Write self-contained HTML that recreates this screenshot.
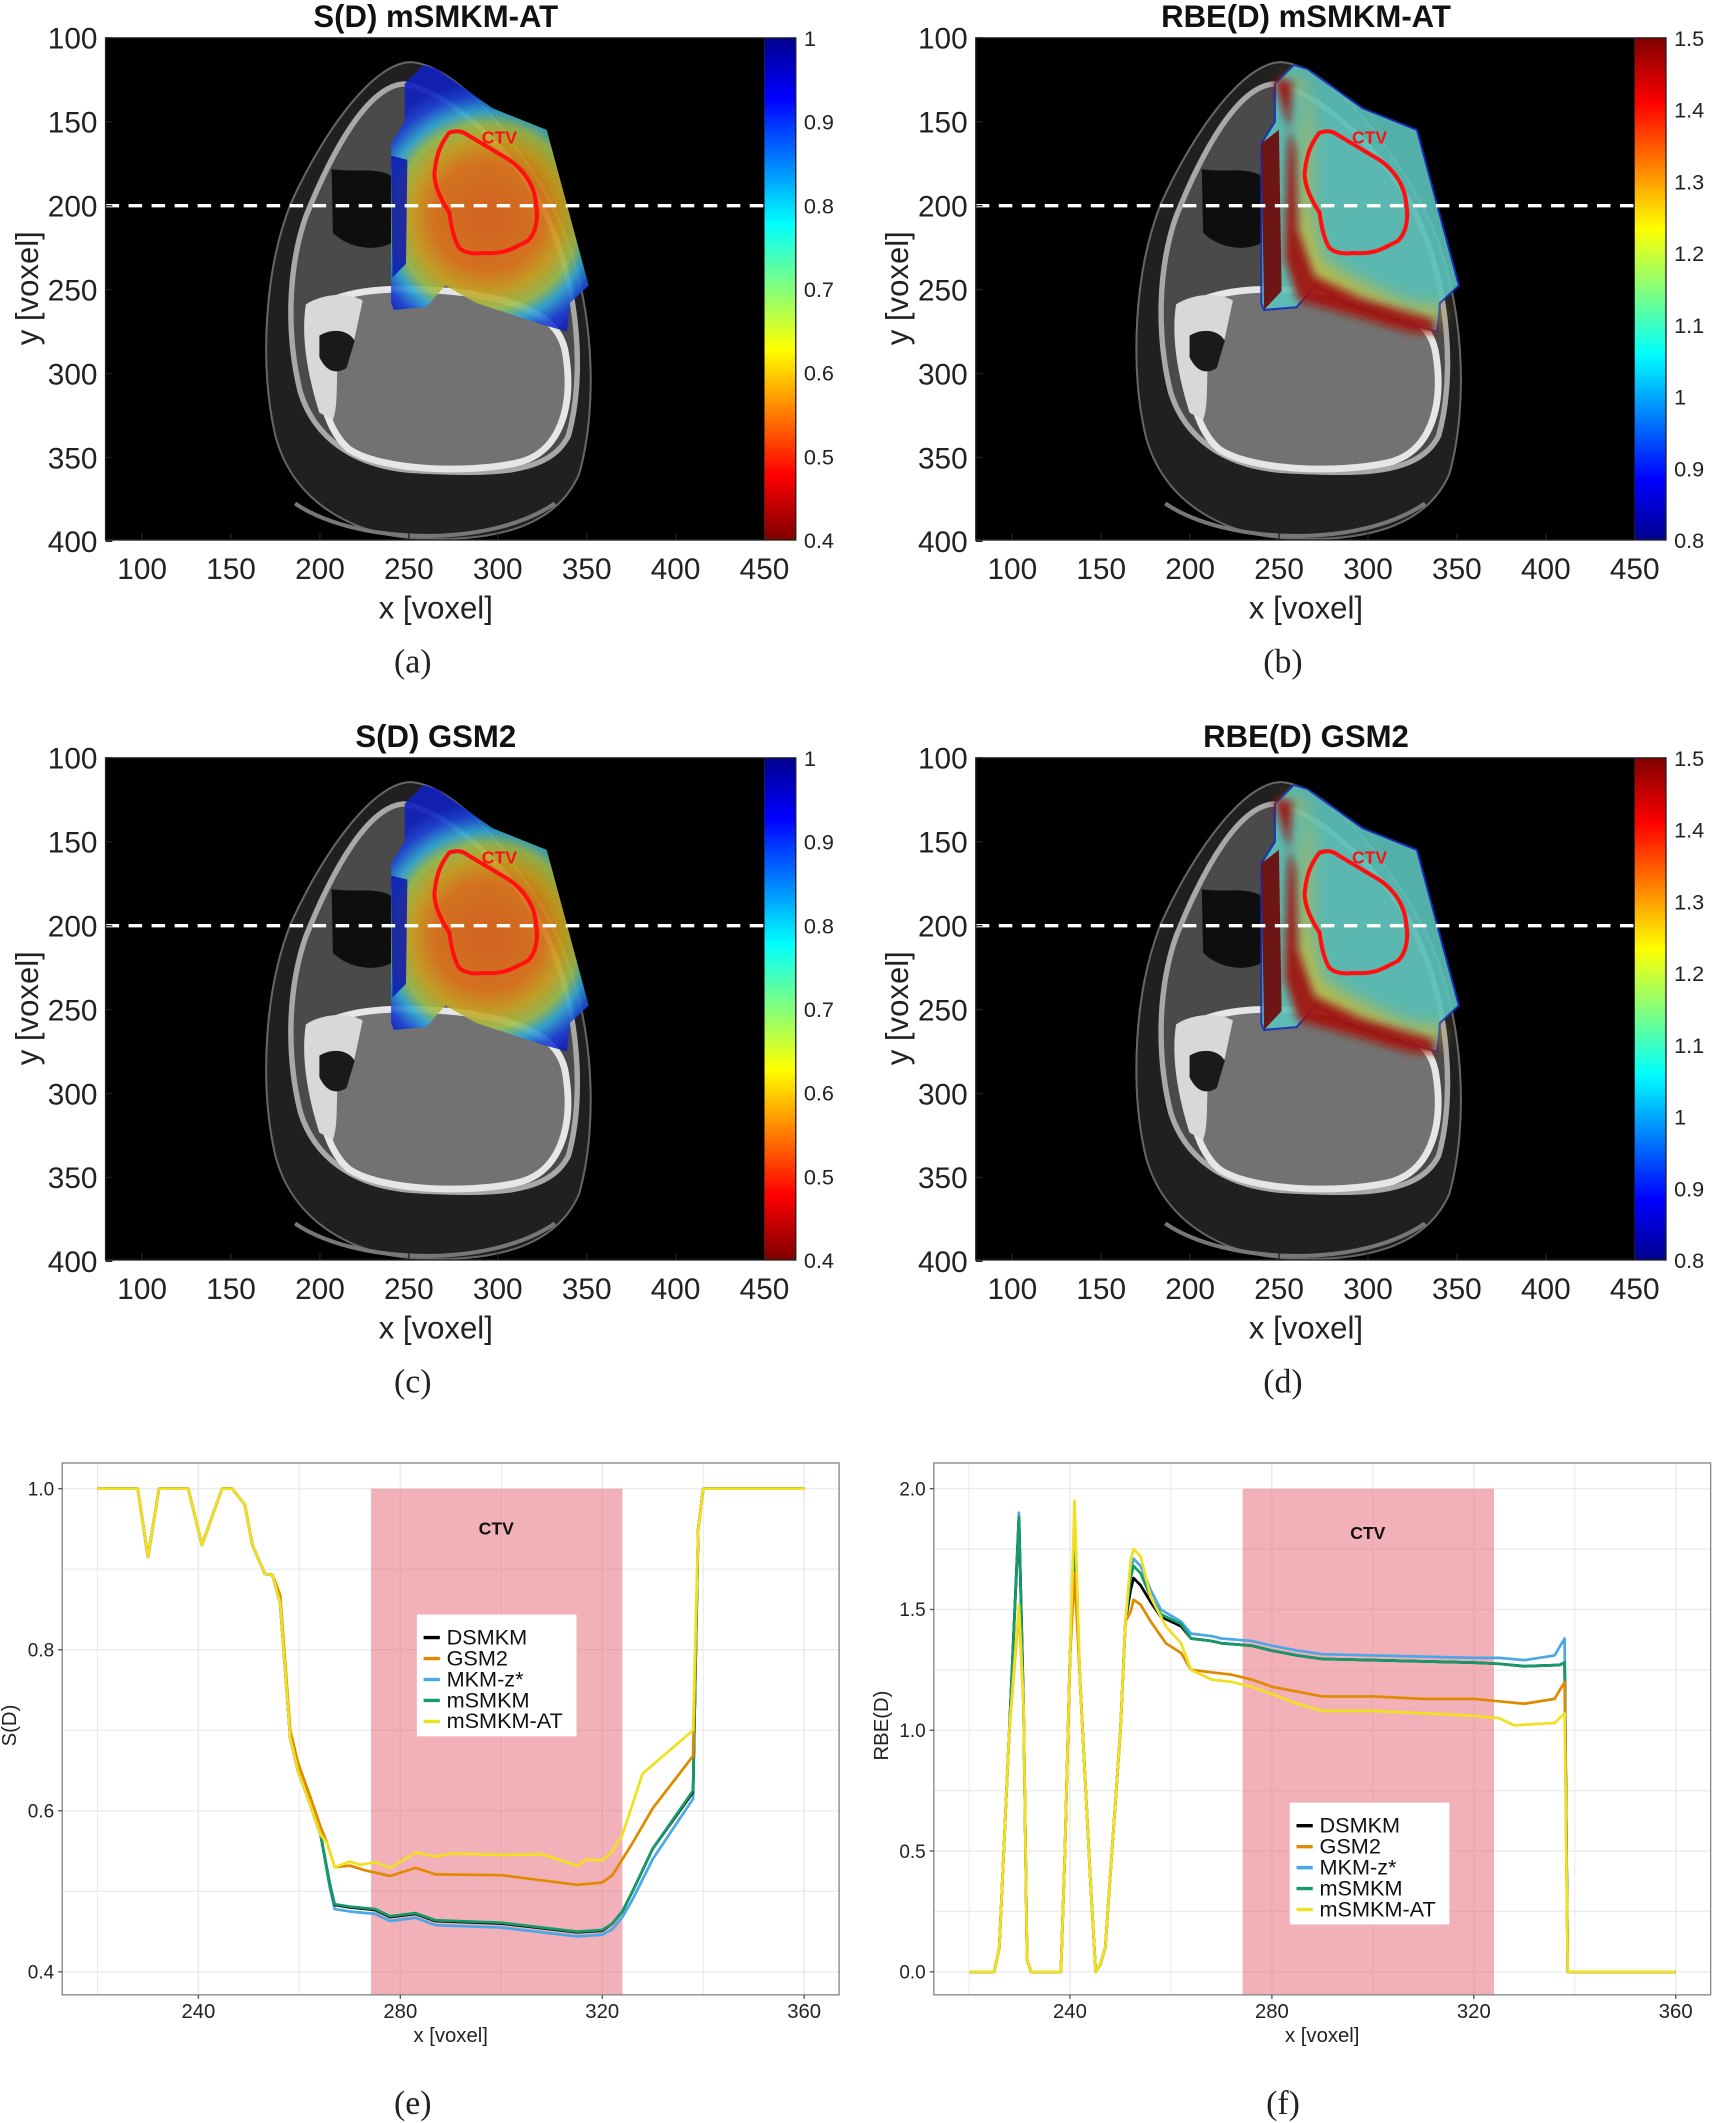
<!DOCTYPE html>
<html><head><meta charset="utf-8"><style>
html,body{margin:0;padding:0;background:#fff;}
svg{display:block;font-family:"Liberation Sans",Arial,sans-serif;}
</style></head><body>
<svg id="s" xmlns="http://www.w3.org/2000/svg" width="1712" height="2123" viewBox="0 0 1265 1568.7">
<defs>
<linearGradient id="jetR" x1="0" y1="0" x2="0" y2="1">
<stop offset="0" stop-color="#00008f"/><stop offset="0.12" stop-color="#0000ff"/><stop offset="0.37" stop-color="#00ffff"/><stop offset="0.62" stop-color="#ffff00"/><stop offset="0.87" stop-color="#ff0000"/><stop offset="1" stop-color="#800000"/>
</linearGradient>
<linearGradient id="jet" x1="0" y1="1" x2="0" y2="0">
<stop offset="0" stop-color="#00008f"/><stop offset="0.12" stop-color="#0000ff"/><stop offset="0.37" stop-color="#00ffff"/><stop offset="0.62" stop-color="#ffff00"/><stop offset="0.87" stop-color="#ff0000"/><stop offset="1" stop-color="#800000"/>
</linearGradient>
<radialGradient id="sg" cx="360" cy="160" r="100" gradientUnits="userSpaceOnUse">
<stop offset="0" stop-color="#e0641c"/><stop offset="0.4" stop-color="#e2761c"/><stop offset="0.55" stop-color="#d0a420"/><stop offset="0.68" stop-color="#9cc050"/><stop offset="0.78" stop-color="#30a8d8"/><stop offset="0.9" stop-color="#1a40d8"/><stop offset="1" stop-color="#1020c0"/>
</radialGradient>
<filter id="bl" x="-20%" y="-20%" width="140%" height="140%"><feGaussianBlur stdDeviation="6"/></filter>
<filter id="bl2"><feGaussianBlur stdDeviation="3"/></filter>
<clipPath id="cpE"><rect x="46" y="1081" width="574" height="393"/></clipPath>
<clipPath id="cpF"><rect x="690" y="1081" width="574" height="393"/></clipPath>
</defs>
<g id="root"></g>
</svg>
<script>
const root=document.getElementById("root");
let H="";
const region="M313,48 L323,51 L364,80 L404,96 L435,211 L421,224 L419,245 L401,240 L352,224 L329,211 L315,227 L291,229 L289,224 L289,106 L299,90 L299,62 Z";
const ctv="M332,98 C338,96 342,97 346,100 L376,118 C388,126 395,138 396,150 C398,162 396,172 390,178 L380,183 C370,188 362,187 356,187 C348,188 340,186 338,181 C334,172 333,164 332,157 C326,148 321,138 321,128 C322,118 324,108 332,98 Z";
function head(){
 let s="";
 s+=`<path d="M305,46 C340,50 385,105 412,160 C440,220 442,300 428,350 C410,392 360,400 311,398 C260,396 215,370 203,320 C192,270 195,200 215,150 C240,95 278,44 305,46 Z" fill="#202020" stroke="#666" stroke-width="1.5"/>`;
 s+=`<path d="M298,62 C330,66 382,112 405,162 C428,212 432,280 420,322 C405,352 360,350 311,348 C260,346 232,322 222,290 C212,250 212,200 226,160 C246,110 272,64 298,62 Z" fill="#4a4a4a" stroke="#a8a8a8" stroke-width="4"/>`;
 s+=`<path d="M238,225 C262,212 300,212 340,216 C382,222 414,232 418,262 C424,300 414,335 382,342 C345,350 282,348 258,332 C236,314 230,265 238,225 Z" fill="#727272" stroke="#e6e6e6" stroke-width="5"/>`;
 s+=`<path d="M226,225 C236,218 255,215 268,222 L262,250 L250,262 C248,285 250,300 246,310 L236,305 C228,280 222,250 226,225 Z" fill="#d8d8d8"/>`;
 s+=`<path d="M236,248 C246,242 258,244 262,252 L256,272 C246,278 240,272 236,264 Z" fill="#1a1a1a"/>`;
 s+=`<path d="M245,125 C262,128 280,122 292,132 L292,178 C276,188 256,182 246,172 Z" fill="#0e0e0e"/>`;
 s+=`<path d="M218,372 C262,402 360,406 410,372" fill="none" stroke="#777" stroke-width="3"/>`;
 return s;
}
function axesImg(ox,oy,title,isR,cbTicks){
 let s=`<g transform="translate(${ox},${oy})">`;
 s+=`<rect x="78" y="28" width="487" height="371" fill="#000"/>`;
 s+=`<svg x="78" y="28" width="487" height="371" viewBox="78 28 487 371" overflow="hidden">`+head();
 if(!isR){
  s+=`<path d="${region}" fill="url(#sg)" opacity="0.9"/>`;
  s+=`<path d="M289,115 L301,118 L300,195 L290,205 Z" fill="#0a14b0" opacity="0.85"/>`;
 } else {
  s+=`<path d="${region}" fill="#5cc4bc" opacity="0.9" stroke="#1830c0" stroke-width="1.5"/>`;
  s+=`<path d="M303,55 L322,62 L318,110 L312,180 L322,215 L355,225 L408,240 L421,240 L421,224 L402,226 L362,208 L335,192 L325,150 L326,80 Z" fill="#d0b830" opacity="0.75" filter="url(#bl)"/>`;
  s+=`<path d="M298,58 L312,60 L308,120 L306,190 L316,222 L345,230 L400,246 L419,246 L416,236 L362,220 L328,204 L316,170 L314,110 Z" fill="#a01010" opacity="0.9" filter="url(#bl2)"/>`;
  s+=`<path d="M289,106 L302,96 L304,215 L291,229 Z" fill="#700808" opacity="0.92"/>`;
 }
 s+=`<path d="${ctv}" fill="none" stroke="#ff1010" stroke-width="3"/>`;
 s+=`<text x="356" y="106" fill="#ff1010" font-size="13" font-weight="bold">CTV</text>`;
 s+=`</svg>`;
 s+=`<line x1="78" y1="152" x2="565" y2="152" stroke="#fff" stroke-width="2.5" stroke-dasharray="10,7"/>`;
 s+=`<rect x="565" y="28" width="23" height="371" fill="url(#${isR?'jet':'jetR'})"/>`;
 s+=`<rect x="78" y="28" width="510" height="371" fill="none" stroke="#222" stroke-width="1"/>`;
 for(let i=0;i<7;i++){const y=28+i*62,v=100+i*50; s+=`<text x="72" y="${y+8}" font-size="22" text-anchor="end" fill="#222">${v}</text>`; s+=`<line x1="78" y1="${y}" x2="83" y2="${y}" stroke="#222"/>`;}
 for(let i=0;i<8;i++){const x=105+i*65.7,v=100+i*50; s+=`<text x="${x}" y="428" font-size="22" text-anchor="middle" fill="#222">${v}</text>`;s+=`<line x1="${x}" y1="399" x2="${x}" y2="394" stroke="#222"/>`;}
 const n=cbTicks.length;
 cbTicks.forEach((t,i)=>{const y=28+i*371/(n-1); s+=`<text x="594" y="${y+6}" font-size="16" fill="#222">${t}</text>`;});
 s+=`<text x="322" y="20" font-size="23" font-weight="bold" text-anchor="middle" fill="#111">${title}</text>`;
 s+=`<text x="322" y="457" font-size="23" text-anchor="middle" fill="#222">x [voxel]</text>`;
 s+=`<text transform="translate(28,213) rotate(-90)" font-size="23" text-anchor="middle" fill="#222">y [voxel]</text>`;
 s+=`</g>`;
 return s;
}
const sT=["1","0.9","0.8","0.7","0.6","0.5","0.4"], rT=["1.5","1.4","1.3","1.2","1.1","1","0.9","0.8"];
H+=axesImg(0,0,"S(D) mSMKM-AT",false,sT);
H+=axesImg(643,0,"RBE(D) mSMKM-AT",true,rT);
H+=axesImg(0,532,"S(D) GSM2",false,sT);
H+=axesImg(643,532,"RBE(D) GSM2",true,rT);
const cap=(x,y,t)=>`<text x="${x}" y="${y}" style="font-family:'Liberation Serif',serif" font-size="25" text-anchor="middle" fill="#222">${t}</text>`;
H+=cap(305,497,"(a)")+cap(948,497,"(b)")+cap(305,1029,"(c)")+cap(948,1029,"(d)")+cap(305,1562,"(e)")+cap(948,1562,"(f)");

const COL={D:"#000000",G:"#e08a00",M:"#4aa8e8",S:"#159a6a",A:"#f0e020"};
const sBase=[[220,1],[228,1],[230,0.915],[232.2,1],[238,1],[240.7,0.93],[244.7,1],[246.7,1],[249.2,0.98],[250.7,0.93],[253.2,0.894],[254.7,0.893],[256.2,0.858],[258.2,0.69],[259.7,0.65],[262,0.61],[264.2,0.57]];
const S={
 D:sBase.concat([[266,0.51],[267,0.483],[270,0.48],[275,0.477],[278,0.468],[283,0.472],[287,0.463],[300,0.46],[315,0.449],[320,0.451],[322,0.46],[324,0.475],[326,0.5],[330,0.553],[338,0.623],[339,0.95],[340,1],[360,1]]),
 S:sBase.concat([[266,0.51],[267,0.484],[270,0.481],[275,0.478],[278,0.469],[283,0.473],[287,0.464],[300,0.461],[315,0.45],[320,0.452],[322,0.46],[324,0.475],[326,0.5],[330,0.553],[338,0.625],[339,0.95],[340,1],[360,1]]),
 M:sBase.concat([[266,0.505],[267,0.478],[270,0.475],[275,0.472],[278,0.463],[283,0.467],[287,0.458],[300,0.455],[315,0.444],[320,0.446],[322,0.453],[324,0.468],[326,0.49],[330,0.54],[338,0.615],[339,0.95],[340,1],[360,1]]),
 G:sBase.map(p=>p[0]>=256?[p[0],p[1]+0.01]:p).concat([[265.5,0.56],[267,0.53],[270,0.532],[273,0.526],[278,0.519],[283,0.529],[287,0.521],[300,0.52],[315,0.508],[320,0.511],[322,0.52],[326,0.56],[330,0.603],[338,0.668],[339,0.95],[340,1],[360,1]]),
 A:sBase.concat([[265.5,0.56],[267,0.53],[270,0.537],[272,0.533],[275,0.536],[278,0.529],[283,0.548],[287,0.543],[290,0.547],[300,0.545],[308,0.546],[315,0.532],[317,0.54],[320,0.538],[322,0.55],[324,0.57],[328,0.646],[338,0.7],[339,0.95],[340,1],[360,1]])
};
function rb(spk1,spk2,pk,tail){return [[220,0],[225,0],[226,0.1],[228,1.0],[229.9,spk1],[230.8,1.1],[231.5,0.05],[232.3,0],[238.2,0],[239,0.5],[240,1.3],[240.9,spk2],[242,1.2],[244,0.4],[245.1,0],[246,0.03],[247,0.1],[248,0.4],[250,1.0],[251,1.45],[252,pk-0.05],[252.6,pk]].concat(tail).concat([[338.6,0],[360,0]]);}
const R={
 D:rb(1.88,1.77,1.63,[[254,1.6],[256,1.53],[258,1.47],[262,1.43],[264,1.38],[268,1.37],[270,1.36],[276,1.35],[280,1.33],[285,1.31],[290,1.295],[300,1.29],[310,1.285],[320,1.28],[325,1.275],[330,1.265],[337,1.27],[338,1.28]]),
 M:rb(1.9,1.78,1.71,[[254,1.68],[256,1.58],[258,1.5],[262,1.45],[264,1.4],[268,1.39],[270,1.38],[276,1.37],[280,1.35],[285,1.33],[290,1.315],[300,1.31],[310,1.305],[320,1.3],[325,1.3],[330,1.29],[336,1.31],[338,1.38]]),
 S:rb(1.88,1.76,1.68,[[254,1.65],[256,1.55],[258,1.48],[262,1.44],[264,1.38],[268,1.37],[270,1.36],[276,1.35],[280,1.33],[285,1.31],[290,1.295],[300,1.29],[310,1.285],[320,1.28],[325,1.275],[330,1.265],[337,1.27],[338,1.28]]),
 G:rb(1.5,1.65,1.54,[[254,1.52],[256,1.45],[259,1.36],[262,1.32],[264,1.25],[268,1.24],[272,1.23],[276,1.21],[280,1.18],[285,1.16],[290,1.14],[300,1.14],[310,1.13],[320,1.13],[325,1.12],[330,1.11],[336,1.13],[338,1.2]]),
 A:rb(1.52,1.95,1.75,[[254,1.72],[256,1.55],[259,1.43],[262,1.36],[264,1.25],[268,1.21],[272,1.2],[276,1.18],[280,1.15],[285,1.11],[290,1.08],[300,1.08],[310,1.07],[320,1.06],[325,1.05],[328,1.02],[336,1.03],[338,1.07]])
};
function plot(bx,ylab,data,yv,yToPx,ticks,legY,clip){
 const X=v=>bx+26+(v-220)*3.73;
 let s="";
 s+=`<rect x="${bx}" y="1081" width="574" height="393" fill="#fff"/>`;
 for(let v=220;v<=360;v+=20){s+=`<line x1="${X(v)}" y1="1081" x2="${X(v)}" y2="1474" stroke="#ebebeb" stroke-width="${v%40==0?1.2:0.8}"/>`;}
 yv.forEach(v=>{s+=`<line x1="${bx}" y1="${yToPx(v)}" x2="${bx+574}" y2="${yToPx(v)}" stroke="#ebebeb" stroke-width="1"/>`;});
 s+=`<rect x="${X(274.2)}" y="1100" width="${X(324)-X(274.2)}" height="374" fill="#e8707f" opacity="0.55"/>`;
 s+=`<text x="${X(299)}" y="${bx<300?1134:1137}" font-size="13" font-weight="bold" text-anchor="middle" fill="#111">CTV</text>`;
 s+=`<g clip-path="url(#${clip})">`;
 ["M","D","S","G","A"].forEach(k=>{s+=`<polyline fill="none" stroke="${COL[k]}" stroke-width="2" stroke-linejoin="round" points="${data[k].map(p=>X(p[0]).toFixed(1)+","+yToPx(p[1]).toFixed(1)).join(" ")}"/>`;});
 s+=`</g>`;
 s+=`<rect x="${bx}" y="1081" width="574" height="393" fill="none" stroke="#888" stroke-width="1"/>`;
 ticks.forEach(t=>{s+=`<text x="${bx-6}" y="${yToPx(t[0])+5}" font-size="14" text-anchor="end" fill="#222">${t[1]}</text>`;s+=`<line x1="${bx-3}" y1="${yToPx(t[0])}" x2="${bx}" y2="${yToPx(t[0])}" stroke="#555"/>`;});
 [240,280,320,360].forEach(v=>{s+=`<text x="${X(v)}" y="1491" font-size="15" text-anchor="middle" fill="#222">${v}</text>`;s+=`<line x1="${X(v)}" y1="1474" x2="${X(v)}" y2="1477" stroke="#555"/>`;});
 s+=`<text x="${bx+287}" y="1509" font-size="15" text-anchor="middle" fill="#222">x [voxel]</text>`;
 s+=`<text transform="translate(${bx-34},${1275}) rotate(-90)" font-size="15" text-anchor="middle" fill="#222">${ylab}</text>`;
 const lx=legY[0],ly=legY[1];
 s+=`<rect x="${lx}" y="${ly}" width="118" height="90" fill="#fff"/>`;
 [["D","DSMKM"],["G","GSM2"],["M","MKM-z*"],["S","mSMKM"],["A","mSMKM-AT"]].forEach((e,i)=>{const y=ly+22+i*15.5;
  s+=`<line x1="${lx+5}" y1="${y-5}" x2="${lx+17}" y2="${y-5}" stroke="${COL[e[0]]}" stroke-width="2.5"/>`;
  s+=`<text x="${lx+22}" y="${y}" font-size="16" fill="#111">${e[1]}</text>`;});
 return s;
}
H+=plot(46,"S(D)",S,[0.4,0.5,0.6,0.7,0.8,0.9,1.0],v=>1100+(1-v)*595,[[1,"1.0"],[0.8,"0.8"],[0.6,"0.6"],[0.4,"0.4"]],[308,1193],"cpE");
H+=plot(690,"RBE(D)",R,[0,0.25,0.5,0.75,1,1.25,1.5,1.75,2],v=>1457-v*178.5,[[2,"2.0"],[1.5,"1.5"],[1,"1.0"],[0.5,"0.5"],[0,"0.0"]],[953,1332],"cpF");
root.innerHTML=H;
</script>
</body></html>
